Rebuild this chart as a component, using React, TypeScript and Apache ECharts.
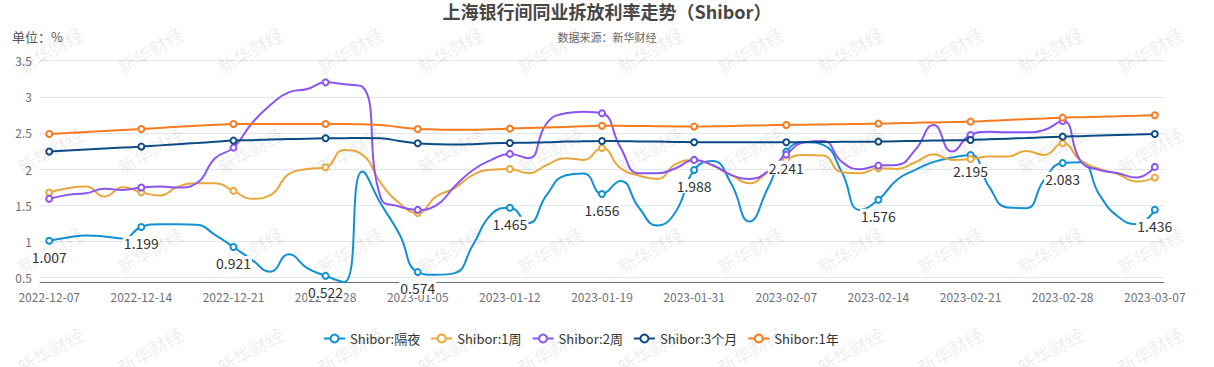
import React, { useEffect, useRef } from "react";
import * as echarts from "echarts";

const dates = [
  "2022-12-07", "2022-12-08", "2022-12-09", "2022-12-12", "2022-12-13", "2022-12-14", "2022-12-15", "2022-12-16", "2022-12-19", "2022-12-20",
  "2022-12-21", "2022-12-22", "2022-12-23", "2022-12-26", "2022-12-27", "2022-12-28", "2022-12-29", "2022-12-30", "2023-01-03", "2023-01-04",
  "2023-01-05", "2023-01-06", "2023-01-09", "2023-01-10", "2023-01-11", "2023-01-12", "2023-01-13", "2023-01-16", "2023-01-17", "2023-01-18",
  "2023-01-19", "2023-01-20", "2023-01-28", "2023-01-29", "2023-01-30", "2023-01-31", "2023-02-01", "2023-02-02", "2023-02-03", "2023-02-06",
  "2023-02-07", "2023-02-08", "2023-02-09", "2023-02-10", "2023-02-13", "2023-02-14", "2023-02-15", "2023-02-16", "2023-02-17", "2023-02-20",
  "2023-02-21", "2023-02-22", "2023-02-23", "2023-02-24", "2023-02-27", "2023-02-28", "2023-03-01", "2023-03-02", "2023-03-03", "2023-03-06",
  "2023-03-07",
];

const overnight = [
  1.007, 1.053, 1.08, 1.067, 1.04, 1.199, 1.237, 1.237, 1.23, 1.09,
  0.921, 0.744, 0.58, 0.82, 0.63, 0.522, 0.435, 1.965, 1.52, 1.1,
  0.574, 0.537, 0.56, 0.952, 1.375, 1.465, 1.251, 1.643, 1.91, 1.94,
  1.656, 1.836, 1.468, 1.219, 1.41, 1.988, 2.113, 1.804, 1.274, 1.735,
  2.241, 2.371, 2.334, 1.965, 1.435, 1.576, 1.85, 1.99, 2.1, 2.16,
  2.195, 1.76, 1.468, 1.459, 1.85, 2.083, 2.094, 1.643, 1.343, 1.237,
  1.436,
];

const oneWeek = [
  1.675, 1.735, 1.758, 1.62, 1.75, 1.68, 1.634, 1.758, 1.804, 1.804,
  1.698, 1.588, 1.64, 1.93, 2.0, 2.025, 2.265, 2.196, 1.804, 1.53,
  1.39, 1.62, 1.735, 1.92, 1.99, 2.0, 1.942, 2.057, 2.15, 2.127,
  2.29, 2.012, 1.91, 1.864, 2.067, 2.127, 2.048, 1.919, 1.804, 1.96,
  2.13, 2.196, 2.187, 1.956, 1.942, 2.011, 2.002, 2.094, 2.205, 2.127,
  2.14, 2.173, 2.173, 2.25, 2.196, 2.357, 2.113, 2.002, 1.93, 1.827,
  1.882,
];

const twoWeek = [
  1.588, 1.643, 1.666, 1.726, 1.712, 1.744, 1.758, 1.744, 1.804, 2.15,
  2.297, 2.634, 2.887, 3.062, 3.108, 3.2, 3.173, 3.14, 1.597, 1.482,
  1.435, 1.496, 1.758, 1.988, 2.127, 2.21, 2.15, 2.634, 2.772, 2.795,
  2.772, 2.3, 1.942, 1.942, 2.011, 2.127, 2.057, 1.92, 1.864, 1.965,
  2.2, 2.371, 2.39, 2.104, 1.998, 2.048, 2.057, 2.265, 2.61, 2.242,
  2.472, 2.518, 2.509, 2.509, 2.541, 2.666, 2.104, 1.988, 1.942, 1.882,
  2.03,
];

const threeMonth = [
  2.242, 2.256, 2.27, 2.284, 2.297, 2.311, 2.328, 2.345, 2.36, 2.377,
  2.394, 2.4, 2.41, 2.415, 2.42, 2.426, 2.428, 2.43, 2.425, 2.39,
  2.357, 2.345, 2.34, 2.345, 2.357, 2.362, 2.366, 2.37, 2.38, 2.384,
  2.389, 2.386, 2.383, 2.38, 2.375, 2.371, 2.37, 2.37, 2.37, 2.37,
  2.371, 2.373, 2.375, 2.377, 2.378, 2.38, 2.385, 2.39, 2.394, 2.398,
  2.403, 2.412, 2.421, 2.43, 2.44, 2.449, 2.456, 2.464, 2.471, 2.478,
  2.486,
];

const oneYear = [
  2.486, 2.5, 2.514, 2.528, 2.541, 2.555, 2.57, 2.585, 2.6, 2.612,
  2.624, 2.624, 2.625, 2.625, 2.625, 2.624, 2.624, 2.62, 2.61, 2.58,
  2.555, 2.548, 2.543, 2.545, 2.552, 2.56, 2.568, 2.576, 2.584, 2.592,
  2.6, 2.598, 2.596, 2.594, 2.59, 2.588, 2.592, 2.597, 2.602, 2.606,
  2.611, 2.614, 2.618, 2.622, 2.625, 2.629, 2.635, 2.64, 2.646, 2.651,
  2.657, 2.668, 2.679, 2.69, 2.7, 2.712, 2.718, 2.725, 2.731, 2.738,
  2.744,
];

const seriesNames = ["Shibor:隔夜", "Shibor:1周", "Shibor:2周", "Shibor:3个月", "Shibor:1年"];
const seriesColors = ["#1190d2", "#e8a73a", "#8a55f0", "#0d4b85", "#f77b1e"];
const seriesValues = [overnight, oneWeek, twoWeek, threeMonth, oneYear];

const FONT = "'Noto Sans CJK SC', 'Noto Sans', sans-serif";

export default function App() {
  const ref = useRef<HTMLDivElement>(null);

  useEffect(() => {
    if (!ref.current) return;
    const chart = echarts.init(ref.current, undefined, { renderer: "svg" });

    const watermarks: any[] = [];
    for (let r = 0; r < 4; r++) {
      for (let c = 0; c < 12; c++) {
        watermarks.push({
          type: "text",
          x: 50 + 100 * c,
          y: 50 + 100 * r,
          rotation: Math.PI / 6,
          silent: true,
          z: 1,
          style: {
            text: "新华财经",
            fontSize: 18,
            fontFamily: FONT,
            fill: "rgba(0,0,0,0.09)",
            textAlign: "center",
            textVerticalAlign: "middle",
          },
        });
      }
    }

    const series = seriesValues.map((vals, si) => ({
      name: seriesNames[si],
      type: "line",
      smooth: true,
      symbol: "emptyCircle",
      symbolSize: 6,
      showSymbol: true,
      showAllSymbol: true,
      color: seriesColors[si],
      lineStyle: { width: 2 },
      itemStyle: { borderWidth: 1.5 },
      emphasis: { disabled: true },
      label: si === 0
        ? {
            show: true,
            position: "bottom",
            fontSize: 14,
            color: "#333",
            fontFamily: FONT,
            backgroundColor: "#fff",
            padding: [0, 1],
          }
        : { show: false },
      data: vals.map((v, i) =>
        i % 5 === 0
          ? { value: v }
          : { value: v, symbol: "none", label: { show: false } }
      ),
    }));

    chart.setOption({
      animation: false,
      textStyle: { fontFamily: FONT },
      title: {
        text: "上海银行间同业拆放利率走势（Shibor）",
        subtext: "数据来源：新华财经",
        left: "center",
        top: -3,
        itemGap: 12,
        textStyle: { fontSize: 18, fontWeight: "bold", color: "#464646", fontFamily: FONT },
        subtextStyle: { fontSize: 11, color: "#666", fontFamily: FONT },
      },
      legend: {
        data: seriesNames,
        left: 318,
        top: 327,
        itemWidth: 21,
        itemHeight: 10,
        itemGap: 10,
        textStyle: { fontSize: 13, color: "#333", fontFamily: FONT },
      },
      grid: { left: 40, right: 50, top: 60.7, bottom: 84.5, containLabel: false },
      xAxis: {
        type: "category",
        data: dates,
        boundaryGap: true,
        axisLine: { lineStyle: { color: "#6E7079" } },
        axisTick: { interval: 4 },
        axisLabel: { interval: 4, color: "#6E7079", fontSize: 12, margin: 8 },
      },
      yAxis: {
        type: "value",
        min: 0.43,
        max: 3.5,
        splitNumber: 6,
        axisLine: { show: false },
        axisTick: { show: false },
        axisLabel: { color: "#6E7079", fontSize: 12, showMinLabel: false },
        splitLine: { lineStyle: { color: "#E0E6F1" } },
      },
      graphic: [
        ...watermarks,
        {
          type: "text",
          left: 12,
          top: 30,
          z: 5,
          style: { text: "单位：%", fontSize: 13, fill: "#555", fontFamily: FONT },
        },
      ],
      series,
    });

    return () => chart.dispose();
  }, []);

  return (
    <div
      ref={ref}
      style={{ position: "absolute", left: 0, top: 0, width: 1214, height: 367, background: "#fff" }}
    />
  );
}
